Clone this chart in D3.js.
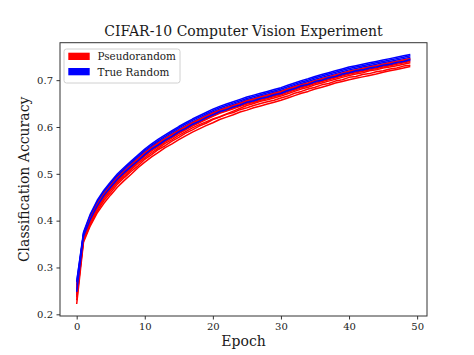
<!DOCTYPE html>
<html>
<head>
<meta charset="utf-8">
<script src="https://cdn.jsdelivr.net/npm/d3@7"></script>
<style>
html,body{margin:0;padding:0;background:#fff;}
svg{display:block;}
text{font-family:"DejaVu Serif","Liberation Serif",serif;fill:#1a1a1a;}
</style>
</head>
<body>
<svg id="chart" width="474" height="355"></svg>
<script>
const titleText = "CIFAR-10 Computer Vision Experiment";
const xLabel = "Epoch";
const yLabel = "Classification Accuracy";
const seriesNames = ["Pseudorandom", "True Random"];
const seriesColors = ["#ff0000", "#0000ff"];
const xTicks = [0, 10, 20, 30, 40, 50];
const yTicks = [0.2, 0.3, 0.4, 0.5, 0.6, 0.7];

const pseudoRuns = [
[.222,.354,.389,.416,.437,.455,.472,.486,.499,.513,.525,.536,.546,.556,.564,.573,.581,.589,.596,.603,.609,.616,.621,.626,.632,.636,.641,.645,.649,.653,.657,.662,.667,.672,.676,.681,.685,.689,.694,.697,.701,.704,.707,.710,.713,.717,.720,.723,.726,.729],
[.236,.357,.392,.420,.443,.460,.478,.492,.505,.517,.531,.541,.552,.560,.570,.578,.587,.594,.602,.608,.616,.621,.627,.631,.637,.641,.646,.650,.654,.657,.662,.666,.672,.676,.681,.685,.690,.693,.698,.701,.706,.708,.712,.714,.718,.720,.724,.726,.730,.732],
[.244,.360,.397,.424,.447,.465,.482,.495,.509,.522,.534,.545,.555,.565,.573,.582,.590,.598,.605,.611,.617,.622,.628,.634,.640,.646,.650,.655,.658,.662,.666,.671,.676,.681,.685,.690,.694,.698,.702,.706,.710,.713,.716,.720,.722,.726,.728,.731,.734,.737],
[.250,.363,.400,.428,.450,.468,.485,.499,.512,.525,.538,.549,.558,.568,.577,.586,.594,.602,.609,.616,.623,.629,.634,.639,.644,.649,.653,.657,.661,.665,.669,.674,.679,.684,.688,.693,.697,.701,.705,.709,.713,.716,.719,.722,.725,.728,.731,.734,.737,.740],
[.256,.366,.404,.432,.454,.472,.489,.503,.516,.529,.542,.553,.563,.572,.581,.590,.598,.606,.613,.620,.627,.633,.638,.643,.648,.653,.657,.661,.665,.669,.673,.678,.683,.688,.692,.697,.701,.705,.709,.713,.717,.720,.723,.726,.729,.732,.735,.738,.741,.744],
[.230,.362,.405,.434,.457,.475,.492,.506,.519,.532,.545,.556,.566,.575,.584,.593,.601,.609,.616,.623,.630,.636,.641,.646,.651,.656,.660,.664,.668,.672,.676,.681,.686,.690,.694,.699,.703,.707,.711,.715,.719,.722,.725,.728,.731,.734,.737,.740,.743,.746]
];

const trueRuns = [
[.240,.364,.401,.429,.451,.470,.486,.501,.513,.527,.539,.551,.560,.570,.578,.588,.595,.604,.610,.618,.624,.631,.635,.641,.645,.651,.654,.659,.662,.667,.670,.676,.680,.686,.689,.695,.698,.703,.706,.711,.714,.718,.720,.724,.726,.730,.732,.736,.738,.742],
[.262,.369,.406,.434,.456,.474,.491,.505,.518,.531,.544,.555,.565,.574,.583,.592,.600,.608,.615,.622,.629,.635,.640,.645,.650,.655,.659,.663,.667,.671,.675,.680,.685,.690,.694,.699,.703,.707,.711,.715,.719,.722,.725,.728,.731,.734,.737,.740,.743,.746],
[.268,.371,.409,.437,.459,.477,.494,.508,.521,.534,.547,.558,.568,.577,.586,.595,.603,.611,.618,.625,.632,.638,.643,.648,.653,.658,.662,.666,.670,.674,.678,.683,.688,.693,.697,.702,.706,.710,.714,.718,.722,.725,.728,.731,.734,.737,.740,.743,.746,.749],
[.255,.373,.411,.440,.462,.480,.497,.511,.524,.537,.550,.561,.571,.580,.589,.598,.606,.614,.621,.628,.635,.641,.646,.651,.656,.661,.665,.669,.673,.677,.681,.686,.691,.696,.700,.705,.709,.713,.717,.721,.725,.728,.731,.734,.737,.740,.743,.746,.749,.752],
[.270,.375,.414,.443,.465,.483,.500,.514,.527,.540,.553,.564,.574,.583,.592,.601,.609,.617,.624,.631,.638,.644,.649,.654,.659,.664,.668,.672,.676,.680,.684,.689,.694,.699,.703,.708,.712,.716,.720,.724,.728,.731,.734,.737,.740,.743,.746,.749,.752,.755],
[.248,.367,.403,.431,.454,.472,.489,.503,.516,.528,.541,.553,.562,.572,.580,.590,.597,.606,.612,.620,.626,.633,.637,.643,.647,.653,.656,.661,.664,.669,.672,.678,.682,.688,.691,.697,.700,.705,.708,.713,.716,.720,.722,.726,.728,.732,.734,.738,.740,.744]
];

const svg = d3.select("#chart");
const L = 60, R = 427, T = 42.7, B = 316;

const x = d3.scaleLinear().domain([-2.45, 51.45]).range([L, R]);
const y = d3.scaleLinear().domain([0.1964, 0.780]).range([B, T]);

const line = d3.line().x((d, i) => x(i)).y(d => y(d));

const plot = svg.append("g");
// interleave runs so both colours show through the band
const order = [];
pseudoRuns.forEach((run, k) => {
  order.push({run: run, c: seriesColors[0]});
  order.push({run: trueRuns[k], c: seriesColors[1]});
});
order.forEach(o => {
  plot.append("path").datum(o.run).attr("d", line)
    .attr("fill", "none").attr("stroke", o.c).attr("stroke-width", 1.5)
    .attr("stroke-linejoin", "round");
});

// frame
svg.append("rect").attr("x", L).attr("y", T).attr("width", R - L).attr("height", B - T)
  .attr("fill", "none").attr("stroke", "#333").attr("stroke-width", 1);

// axes
const xAxis = d3.axisBottom(x).tickValues(xTicks).tickFormat(d3.format("d")).tickSizeOuter(0).tickSize(3.5).tickPadding(3.5);
const gx = svg.append("g").attr("transform", `translate(0,${B})`).call(xAxis);
gx.select(".domain").remove();
gx.selectAll("line").attr("stroke", "#333");
gx.selectAll("text").attr("font-size", "10px").attr("font-family", "DejaVu Serif").attr("fill", "#1a1a1a");

const yAxis = d3.axisLeft(y).tickValues(yTicks).tickFormat(d3.format(".1f")).tickSizeOuter(0).tickSize(3.5).tickPadding(3.5);
const gy = svg.append("g").attr("transform", `translate(${L},0)`).call(yAxis);
gy.select(".domain").remove();
gy.selectAll("line").attr("stroke", "#333");
gy.selectAll("text").attr("font-size", "10px").attr("font-family", "DejaVu Serif").attr("fill", "#1a1a1a");

// title and labels
svg.append("text").attr("x", (L + R) / 2).attr("y", 36).attr("text-anchor", "middle")
  .attr("font-size", "14px").text(titleText);
svg.append("text").attr("x", (L + R) / 2).attr("y", 346).attr("text-anchor", "middle")
  .attr("font-size", "14px").text(xLabel);
svg.append("text").attr("transform", `translate(29,${(T + B) / 2}) rotate(-90)`)
  .attr("text-anchor", "middle").attr("font-size", "14px").text(yLabel);

// legend
const lg = svg.append("g");
lg.append("rect").attr("x", 64).attr("y", 49).attr("width", 116).attr("height", 34)
  .attr("rx", 2.5).attr("fill", "#fff").attr("fill-opacity", 0.8)
  .attr("stroke", "#d0d0d0").attr("stroke-width", 1);
seriesNames.forEach((name, i) => {
  const yy = 52.7 + i * 15.3;
  lg.append("rect").attr("x", 68.3).attr("y", yy).attr("width", 21.4).attr("height", 7.3)
    .attr("fill", seriesColors[i]);
  lg.append("text").attr("x", 97.5).attr("y", yy + 7.6).attr("font-size", "10.4px").text(name);
});
</script>
</body>
</html>
